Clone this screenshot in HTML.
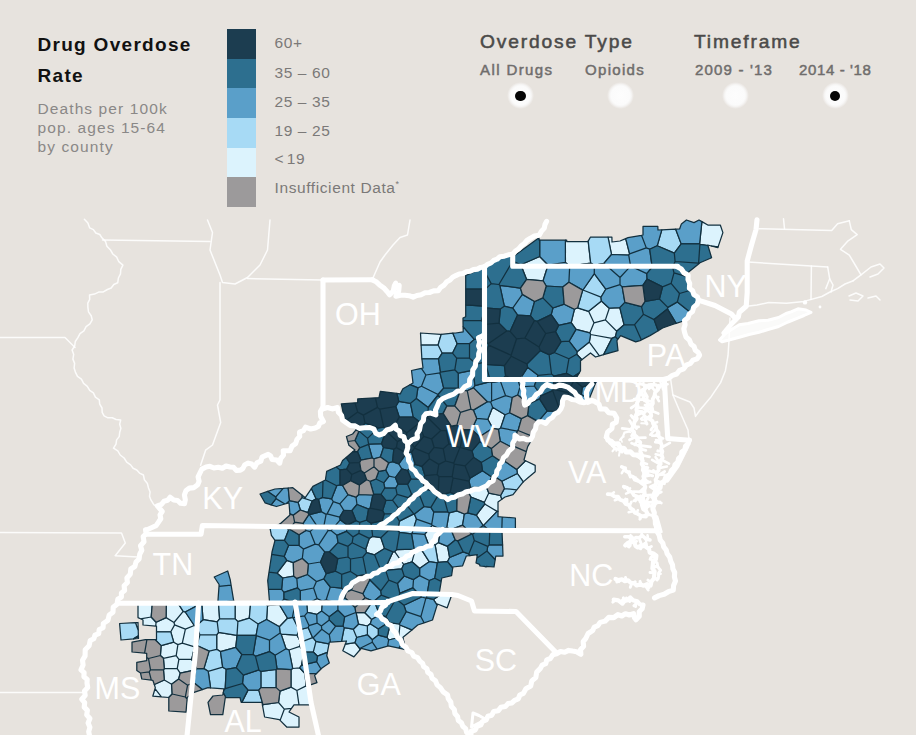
<!DOCTYPE html>
<html><head><meta charset="utf-8"><title>Drug Overdose Rate</title>
<style>
html,body{margin:0;padding:0;}
body{width:916px;height:735px;overflow:hidden;background:#e7e3de;font-family:"Liberation Sans",sans-serif;position:relative;}
.abs{position:absolute;white-space:nowrap;line-height:1;}
.title{left:37.5px;font-weight:bold;font-size:19px;color:#111;letter-spacing:1.3px;}
.sub{left:37.5px;font-size:15.5px;color:#8a8887;letter-spacing:1.1px;}
.leg{left:274.5px;font-size:15.5px;color:#7b7978;letter-spacing:0.6px;}
.sw{position:absolute;left:227px;width:29px;}
.h2{font-size:17.8px;color:#4b4a49;letter-spacing:1.7px;-webkit-text-stroke:0.5px #4b4a49;transform-origin:left top;transform:scaleX(1.08);}
.opt{font-size:14.2px;color:#6f6d6c;letter-spacing:1.3px;-webkit-text-stroke:0.45px #6f6d6c;transform-origin:left top;transform:scaleX(1.06);}
.radio{position:absolute;width:27px;height:27px;border-radius:50%;background:radial-gradient(circle closest-side,#fdfdfd 0,#fbfbfb 70%,#f5f4f3 82%,rgba(238,235,232,.95) 91%,rgba(231,227,222,0) 100%);}
.dot{position:absolute;left:8.4px;top:8.6px;width:10.2px;height:10.2px;border-radius:50%;background:#050505;}
</style></head><body>
<svg width="916" height="735" viewBox="0 0 916 735" style="position:absolute;left:0;top:0">
<g fill="none" stroke="#ffffff" stroke-opacity="0.88" stroke-width="1.5" stroke-linejoin="round" stroke-linecap="round">
<path d="M102.5,240.0 210.0,241.5"/>
<path d="M84.4,219.3 87.9,223.0 89.7,227.9 93.4,229.6 95.8,233.0 99.8,234.5 101.9,237.8 105.5,241.4 106.9,246.2 110.3,249.7 112.8,254.0 116.7,257.1 118.8,261.7 122.9,265.1 120.8,269.3 120.5,273.9 118.4,278.0 117.7,282.8 113.8,284.5 111.2,288.0 107.4,289.5 103.3,291.9 98.6,292.1 94.5,294.1 89.5,294.9 89.7,299.3 87.8,303.2 87.9,307.3 88.5,311.9 91.2,315.7 92.2,319.8 89.9,323.9 86.1,326.7 83.9,330.9 80.0,333.6 77.9,337.7 75.3,341.5 74.7,346.0 72.1,350.0 73.7,354.4 72.9,359.1 74.6,363.4 74.1,368.0 75.4,372.1 77.5,376.4 81.4,379.1 83.6,383.4 87.3,386.3 89.7,390.3 93.4,392.9 95.4,397.1 99.3,399.9 99.7,404.2 102.0,408.0 102.2,412.4 104.1,415.8 107.9,417.8 112.3,417.7 116.1,419.5 120.7,420.0 119.7,424.2 120.9,428.4 119.7,432.3 119.2,436.6 116.6,439.9 116.0,444.1 113.5,448.2 117.8,450.8 120.2,455.0 124.1,458.0 126.7,462.1 130.6,464.9 133.1,468.3 136.8,470.0 139.5,473.1 143.4,475.0 144.4,479.8 147.4,483.5 148.5,488.0 150.1,492.0 149.5,496.3 150.9,499.9 153.8,504.6 158.0,508.0"/>
<path d="M0.0,337.5 65.0,337.5 75.0,347.5"/>
<path d="M207.5,220.0 212.5,232.5 210.0,250.0 220.0,275.0 222.5,282.5 235.0,284.0 247.5,277.5 260.0,265.0 267.5,250.0 270.0,220.0"/>
<path d="M220.0,282.5 220.0,400.0 217.5,405.0 220.7,422.6 212.5,445.0 205.6,450.2 200.6,465.3"/>
<path d="M247.5,278.5 323.0,280.0"/>
<path d="M372.5,279.0 380.0,262.0 385.0,255.0 393.0,245.0 400.0,237.5 407.5,235.0 410.0,220.0"/>
<path d="M0.0,532.5 121.5,533.0 125.3,543.0 115.2,555.7 137.8,557.0"/>
<path d="M0.0,692.5 82.5,692.5"/>
<path d="M759.0,228.7 831.7,230.6 837.6,223.8 849.3,220.8"/>
<path d="M783.5,218.8 784.5,228.7"/>
<path d="M849.3,220.8 851.3,229.7 857.2,234.6 847.4,241.4 840.5,249.3 849.3,255.2 855.2,265.0 861.0,274.8 853.3,280.7"/>
<path d="M861.0,274.8 871.0,267.0 880.0,264.0 884.0,268.0 878.0,274.0 870.0,277.0"/>
<path d="M748.0,262.0 827.7,267.0"/>
<path d="M811.4,266.0 811.0,299.4"/>
<path d="M827.7,267.0 829.7,278.8 825.8,288.6"/>
<path d="M747.0,306.3 757.0,305.0 768.8,302.4 786.5,303.3 804.0,301.4 821.8,296.5 830.0,292.0 837.6,288.6 845.0,284.0 853.3,280.7"/>
<path d="M829.7,278.8 833.0,285.0 831.0,292.0"/>
<path d="M849.0,296.0 856.0,293.0 863.0,296.0 858.0,301.0 850.0,300.0"/>
<path d="M868.0,298.0 876.0,296.0 880.0,300.0"/>
<path d="M730.0,318.0 729.0,340.6 728.0,355.7 725.4,370.7 720.6,382.6 710.5,397.6 700.0,410.0 695.5,416.4 694.0,408.0 690.0,402.0 680.0,398.0 673.0,395.0"/>
<path d="M670.4,377.5 672.9,395.0 680.4,412.7 688.0,430.0 689.0,440.0"/>
</g>
<path d="M565.4,262.4 569.7,266.1 590.7,263.1 588.2,241.1 588.0,241.5 566.7,241.5 566.7,240.2 565.4,240.2Z M611.5,254.5 628.7,255.1 629.6,253.9 625.7,238.6 620.0,241.0 612.0,242.0 611.9,237.0 608.0,237.0Z M588.6,311.3 577.6,307.8 574.4,309.3 571.2,322.7 576.0,329.4 589.8,332.9 594.0,322.8Z M609.3,308.2 605.4,319.9 616.7,331.3 624.1,324.8 619.8,307.6Z M611.9,338.4 590.6,334.5 589.3,342.1 599.4,355.9 603.5,354.7Z M699.6,243.9 699.9,244.3 707.9,245.5 707.8,245.0 711.3,246.0 718.1,246.9 722.9,232.6 720.3,225.0 707.8,225.0 701.9,221.6Z M438.1,345.0 441.2,334.3 440.6,334.3 420.5,333.0 421.1,345.0Z M500.7,427.9 505.1,414.8 492.6,407.3 487.8,419.3 492.7,428.3 498.4,429.4Z M516.8,469.4 517.3,473.5 523.3,481.9 527.7,478.0 535.2,471.7 535.2,465.4 525.5,460.7Z M497.1,511.4 484.7,504.0 476.3,515.2 483.1,525.5 483.4,525.6Z M500.6,495.5 488.8,493.1 484.3,502.4 484.7,504.0 497.1,511.4 498.0,511.3 498.0,502.0 501.8,499.3Z M366.5,552.7 374.6,554.8 384.5,548.4 380.9,537.7 372.7,536.3 369.3,538.4 365.7,549.3Z M412.0,561.8 415.2,550.2 414.1,549.1 396.6,549.6 394.7,551.6 403.7,564.5Z M293.3,562.6 286.8,560.3 277.1,573.2 282.7,578.0 293.7,576.1Z M151.2,617.0 152.3,603.8 138.0,604.0 138.0,617.6 140.5,618.8Z M166.1,617.6 156.1,622.2 155.7,626.1 156.5,626.2 156.5,631.8 170.8,631.8 174.6,624.9 174.0,622.5Z M183.2,611.4 174.0,622.5 174.6,624.9 185.4,629.2 194.3,625.5 185.3,612.0Z M170.8,631.8 173.7,642.2 177.9,644.6 182.3,643.2 185.4,629.2 174.6,624.9Z M185.4,629.2 182.3,643.2 194.6,646.8 197.0,645.5 199.9,634.8 196.3,625.9 194.3,625.5Z M177.9,644.6 173.7,642.2 161.1,645.6 160.4,655.5 163.4,658.3 176.2,655.7Z M177.9,644.6 176.2,655.7 178.9,659.4 191.7,659.4 194.6,646.8 182.3,643.2Z M176.2,655.7 163.4,658.3 164.3,668.6 177.2,668.6 178.9,659.4Z M195.6,669.8 196.7,668.6 191.7,659.4 178.9,659.4 177.2,668.6 180.2,673.2Z M177.2,668.6 164.3,668.6 163.5,669.8 164.3,680.0 171.6,684.2 178.7,679.0 180.2,673.2Z M172.2,694.0 171.6,684.2 164.3,680.0 154.3,684.5 155.3,687.6 155.0,688.7 161.4,696.9 168.8,697.5Z M201.8,603.1 203.0,619.7 217.2,621.9 219.6,618.9 218.5,602.7 201.8,602.9Z M235.1,618.9 237.9,621.6 249.3,618.1 250.7,602.3 235.1,602.5Z M266.6,619.5 279.4,626.8 287.6,618.3 279.3,604.5 267.5,605.6Z M218.5,632.3 216.7,634.8 216.7,649.3 220.5,651.6 235.8,647.3 237.1,635.4 237.0,635.4Z M281.1,634.1 286.0,648.8 289.0,650.0 299.8,646.4 300.9,642.2 297.0,635.2Z M304.0,652.0 299.8,646.4 289.0,650.0 292.7,668.5 299.6,667.8 301.5,665.4Z M299.6,667.8 292.7,668.5 291.0,669.6 291.0,687.1 296.9,690.5 306.1,685.9 305.0,673.5Z M296.9,690.5 291.0,687.1 280.0,691.1 278.5,702.5 284.3,709.2 291.5,708.4 294.0,704.8 299.0,704.8Z M284.3,709.2 278.5,702.5 263.0,704.7 262.5,705.4 264.6,717.0 279.3,719.6 280.1,720.4Z M280.1,720.4 286.7,727.0 299.0,727.0 299.0,717.0 289.0,712.0 291.5,708.4 284.3,709.2Z M306.1,685.9 296.9,690.5 299.0,704.8 311.3,704.8 309.9,687.3Z M321.7,611.0 322.5,601.1 317.1,598.5 306.8,604.2 307.5,612.3 316.7,614.4Z M367.4,626.0 370.3,623.7 371.7,619.5 364.9,612.7 356.1,612.7 358.4,624.2Z M387.0,637.3 388.6,640.0 398.6,637.5 400.0,625.0 399.3,624.0 390.6,622.9Z M359.7,648.5 355.0,642.6 345.3,644.2 342.8,650.8 353.9,656.9 359.8,650.0Z M433.4,599.4 437.1,605.1 437.4,604.0 447.2,607.8 451.0,597.0 452.0,594.5 442.8,593.3Z M438.5,542.6 440.7,529.3 432.2,525.3 424.6,534.3 428.5,544.5 435.1,544.9Z M447.5,561.7 449.6,557.5 447.6,546.3 438.5,542.6 435.1,544.9 438.1,562.4Z M484.3,502.4 488.8,493.1 486.6,487.5 470.3,487.0 468.3,492.1 470.8,497.0Z M605.4,319.9 609.3,308.2 601.4,301.0 588.6,311.3 594.0,322.8Z M178.1,603.3 166.3,603.5 166.1,617.6 174.0,622.5 183.2,611.4Z M589.8,332.9 590.6,334.5 611.9,338.4 615.4,336.8 616.7,331.3 605.4,319.9 594.0,322.8Z M429.2,561.7 421.8,550.1 415.2,550.2 412.0,561.8 419.6,568.5Z M526.6,279.4 543.1,280.8 548.1,265.0 539.7,256.5 520.8,264.8Z M156.1,622.2 151.2,617.0 140.5,618.8 143.0,620.0 143.0,625.0 155.7,626.1Z M138.2,630.3 138.0,622.5 135.4,622.6Z M400.0,625.0 398.6,637.5 402.8,641.9 403.9,641.9 403.0,637.3 411.9,629.9Z M589.3,342.1 577.1,351.7 576.7,354.3 581.8,359.7 590.5,353.0 595.5,357.0 599.4,355.9Z M155.0,688.7 152.8,696.2 161.4,696.9Z M385.6,570.3 401.8,568.8 403.7,564.5 394.7,551.6 392.9,551.9 384.7,569.6Z" fill="#dcf3fd" stroke="#12303f" stroke-width="1.25" stroke-linejoin="round"/>
<path d="M611.5,254.5 608.0,237.0 590.5,237.0 588.2,241.1 590.7,263.1 594.3,265.4 603.9,263.3Z M657.2,245.8 674.3,253.1 681.2,243.9 675.7,229.2 661.8,229.8Z M588.6,311.3 601.4,301.0 601.0,297.2 582.9,290.0 582.7,290.1 577.6,307.8Z M438.1,345.0 442.2,353.2 452.5,353.2 457.2,343.7 452.9,333.2 441.2,334.3Z M438.5,358.8 442.2,353.2 438.1,345.0 421.1,345.0 421.8,358.0 421.9,358.8Z M517.3,473.5 501.8,481.2 504.3,488.6 516.8,489.8 522.8,482.3 523.3,481.9Z M399.4,532.3 411.5,533.8 412.1,533.4 416.5,519.1 414.4,514.1 413.8,513.9 399.4,521.1 397.8,530.7Z M456.8,510.8 449.1,512.8 446.7,527.5 451.1,529.7 462.6,525.1 464.4,514.0Z M298.0,502.3 300.3,510.0 307.8,512.7 312.2,501.0 302.0,497.7Z M284.5,540.4 288.8,529.5 279.8,524.1 270.0,528.0 271.4,535.4 275.0,540.4 275.0,540.4Z M438.1,562.4 435.1,544.9 428.5,544.5 421.8,550.1 429.2,561.7 437.4,562.9Z M138.4,635.9 138.2,630.3 135.4,622.6 119.6,623.5 121.0,640.0 133.5,638.9Z M161.1,645.6 173.7,642.2 170.8,631.8 156.5,631.8 156.5,639.7 155.2,639.7Z M226.3,601.7 233.9,601.7 233.7,600.8Z M219.6,618.9 235.1,618.9 235.1,602.5 218.5,602.7Z M249.3,618.1 258.2,624.0 266.6,619.5 267.5,605.6 264.2,602.1 250.7,602.3Z M199.9,634.8 216.7,634.8 218.5,632.3 217.2,621.9 203.0,619.7 196.3,625.9Z M219.6,618.9 217.2,621.9 218.5,632.3 237.0,635.4 237.9,621.6 235.1,618.9Z M237.0,635.4 237.1,635.4 256.1,635.4 258.2,624.0 249.3,618.1 237.9,621.6Z M216.7,634.8 199.9,634.8 197.0,645.5 209.1,651.1 216.7,649.3Z M220.5,651.6 216.7,649.3 209.1,651.1 203.9,668.6 208.2,671.3 222.7,667.2Z M208.2,671.3 210.6,687.8 224.0,688.9 223.7,690.6 225.2,688.6 226.2,669.3 222.7,667.2Z M260.9,671.4 260.9,687.6 276.2,687.6 276.2,669.5Z M263.0,704.7 258.8,690.1 248.0,690.1 241.8,702.4 262.0,702.4 262.5,705.4Z M372.7,601.0 364.9,612.7 371.7,619.5 379.6,614.7 374.3,601.0Z M299.1,629.8 297.0,635.2 300.9,642.2 312.6,637.6 308.2,627.5Z M344.2,627.7 341.5,641.3 346.5,641.0 345.3,644.2 355.0,642.6 356.7,637.5 353.3,629.2Z M356.7,637.5 367.4,634.8 367.4,626.0 358.4,624.2 353.3,629.2Z M370.3,623.7 367.4,626.0 367.4,634.8 372.3,639.7 378.4,635.1 378.4,629.1Z M300.9,642.2 299.8,646.4 304.0,652.0 313.3,652.0 316.0,641.3 313.2,637.8 312.6,637.6Z M316.0,641.3 313.3,652.0 317.5,656.2 327.4,652.3 329.0,643.9Z M293.1,617.7 292.4,617.4 287.6,618.3 279.4,626.8 280.1,633.1 281.1,634.1 297.0,635.2 299.1,629.8Z M183.2,611.4 185.3,612.0 201.8,603.1 201.8,602.9 198.0,603.0 178.1,603.3Z M500.6,495.5 501.8,499.3 505.0,497.0 513.0,494.6 516.8,489.8 504.3,488.6Z M302.0,497.7 312.2,501.0 316.2,498.9 311.4,488.6 305.3,497.7 301.9,495.0Z M594.3,273.6 582.9,290.0 601.0,297.2 605.8,289.2Z" fill="#a7daf5" stroke="#12303f" stroke-width="1.25" stroke-linejoin="round"/>
<path d="M565.4,240.2 539.7,240.0 539.7,256.5 548.1,265.0 565.4,262.4Z M629.6,253.9 646.3,247.9 641.5,235.3 628.0,237.7 625.7,238.6Z M649.7,249.2 657.2,245.8 661.8,229.8 658.0,230.0 657.8,226.4 643.0,226.4 643.0,235.0 641.5,235.3 646.3,247.9Z M699.6,243.9 701.9,221.6 699.0,220.0 694.0,222.6 686.4,220.0 681.4,223.9 679.6,229.0 675.7,229.2 681.2,243.9Z M568.9,282.2 569.7,266.1 565.4,262.4 548.1,265.0 543.1,280.8 546.2,286.0 562.8,287.0Z M594.3,265.4 590.7,263.1 569.7,266.1 568.9,282.2 582.7,290.1 582.9,290.0 594.3,273.6Z M620.0,277.5 603.9,263.3 594.3,265.4 594.3,273.6 605.8,289.2 620.0,284.7Z M642.9,285.3 647.1,279.1 646.8,273.6 630.6,266.1 620.0,277.5 620.0,284.7 622.2,286.9Z M512.7,308.2 522.4,294.4 520.5,288.2 499.8,285.3 504.3,306.2Z M622.2,286.9 620.0,284.7 605.8,289.2 601.0,297.2 601.4,301.0 609.3,308.2 619.8,307.6 624.9,302.4Z M534.6,301.5 522.4,294.4 512.7,308.2 517.6,315.1 530.5,315.9Z M564.2,304.2 552.9,308.0 551.2,314.6 558.7,325.3 571.2,322.7 574.4,309.3Z M677.4,301.9 667.8,307.4 667.4,308.9 676.1,323.3 685.0,320.5 690.6,312.5Z M576.0,329.4 569.1,341.2 577.1,351.7 589.3,342.1 590.6,334.5 589.8,332.9Z M463.1,326.6 463.2,331.8 455.7,333.0 452.9,333.2 457.2,343.7 469.5,343.7 474.3,339.4Z M438.5,358.8 421.9,358.8 423.0,368.0 421.4,368.3 425.9,375.0 440.0,372.9 440.5,372.2Z M417.9,387.9 421.5,386.2 425.9,375.0 421.4,368.3 411.5,370.5 413.0,383.0 410.0,384.7Z M473.5,387.9 474.9,385.6 473.2,370.2 458.2,373.2 458.2,388.2 460.6,390.0 467.3,390.8Z M425.9,375.0 421.5,386.2 438.1,394.5 443.7,388.2 440.0,372.9Z M438.1,394.5 421.5,386.2 417.9,387.9 416.3,398.6 428.2,407.5 438.1,395.0Z M410.5,403.3 398.8,401.3 395.8,406.5 399.3,417.1 413.3,417.1Z M490.7,402.1 491.6,401.0 491.6,382.4 490.4,381.7 474.9,385.6 473.5,387.9 487.3,401.7Z M520.0,386.8 518.4,381.5 505.6,375.8 500.4,381.1 505.6,395.7 512.3,397.5 517.7,395.0Z M476.7,418.4 487.8,419.3 492.6,407.3 490.7,402.1 487.3,401.7 473.3,410.1Z M509.7,412.8 512.3,397.5 505.6,395.7 491.6,401.0 490.7,402.1 492.6,407.3 505.1,414.8Z M517.3,431.1 518.1,430.5 521.5,418.6 509.7,412.8 505.1,414.8 500.7,427.9Z M470.0,478.3 469.0,481.1 470.3,487.0 486.6,487.5 491.8,477.0 482.5,470.8Z M501.9,462.0 494.6,476.4 501.8,481.2 517.3,473.5 516.8,469.4 504.7,461.3Z M398.8,463.9 392.6,461.7 388.6,462.8 385.7,470.1 389.0,476.2 395.4,477.5 401.8,468.9Z M395.8,488.0 398.1,484.2 395.4,477.5 389.0,476.2 383.7,482.8 384.8,488.0Z M339.8,503.8 348.1,494.7 342.6,485.5 340.1,484.9 336.7,485.7 331.5,498.9 333.3,501.6Z M358.7,494.5 356.0,497.2 357.0,504.5 368.6,509.2 370.2,508.1 372.8,495.0Z M333.3,501.6 331.5,498.9 322.5,497.4 318.5,499.3 321.3,511.6 326.1,514.4 327.1,513.9Z M339.7,517.1 343.8,510.3 339.8,503.8 333.3,501.6 327.1,513.9Z M326.1,514.4 324.0,525.4 328.2,530.3 331.0,530.6 340.2,519.8 339.7,517.1 327.1,513.9Z M416.5,519.1 431.7,524.4 433.8,511.9 430.9,507.4 424.0,506.5 414.4,514.1Z M433.8,511.9 431.7,524.4 432.2,525.3 440.7,529.3 446.7,527.5 449.1,512.8 447.8,511.9Z M501.8,530.8 502.0,530.9 502.0,530.5 515.4,530.0 515.4,518.0 502.2,517.0Z M476.3,515.2 467.7,512.8 464.4,514.0 462.6,525.1 471.5,534.0 472.6,534.3 483.1,525.5Z M331.0,530.6 328.2,530.3 318.7,544.9 324.8,552.0 329.4,551.9 338.1,542.6 336.9,535.3Z M428.5,544.5 424.6,534.3 412.1,533.4 411.5,533.8 414.1,549.1 415.2,550.2 421.8,550.1Z M368.6,444.1 368.5,444.3 372.2,458.0 374.0,458.9 380.4,457.0 383.5,447.5 381.6,443.7Z M275.7,497.0 276.0,498.6 284.9,504.0 286.0,503.7 289.5,500.6 288.2,488.0 283.2,488.4Z M289.5,500.6 286.0,503.7 289.0,502.8 289.9,513.9 293.3,515.3 300.3,510.0 298.0,502.3Z M357.0,504.5 356.0,497.2 348.1,494.7 339.8,503.8 343.8,510.3 351.9,510.5Z M321.3,511.6 309.4,514.6 316.6,525.4 324.0,525.4 326.1,514.4Z M305.9,530.5 299.0,534.8 299.0,545.4 303.4,549.1 315.1,544.1 310.1,531.6Z M324.0,525.4 316.6,525.4 310.1,531.6 315.1,544.1 318.7,544.9 328.2,530.3Z M302.3,558.5 303.4,549.1 299.0,545.4 288.5,545.4 284.1,556.4 286.8,560.3 293.3,562.6Z M320.5,562.0 324.8,552.0 318.7,544.9 315.1,544.1 303.4,549.1 302.3,558.5 308.3,564.0Z M323.8,578.9 326.3,573.7 320.5,562.0 308.3,564.0 307.4,574.5 316.4,581.6Z M297.6,587.9 300.3,590.6 313.6,588.0 316.4,581.6 307.4,574.5 296.8,578.4Z M268.5,589.4 269.5,602.0 264.2,602.1 267.5,605.6 279.3,604.5 284.0,598.8 284.0,592.3 281.6,589.4Z M300.3,590.6 300.3,600.2 306.8,604.2 317.1,598.5 313.6,588.0Z M313.6,588.0 317.1,598.5 322.5,601.1 326.2,599.8 330.3,587.0 323.8,578.9 316.4,581.6Z M437.4,562.9 429.2,561.7 419.6,568.5 419.6,575.6 429.4,580.5 434.8,578.2Z M419.6,575.6 413.5,579.6 412.9,587.9 421.5,597.0 425.9,598.2 426.5,597.9 429.4,580.5Z M362.8,593.7 365.1,597.7 372.7,601.0 374.3,601.0 381.4,595.1 380.8,590.8 369.8,579.8Z M425.9,598.2 420.9,616.7 424.1,622.8 432.5,620.0 437.1,605.1 433.4,599.4 426.5,597.9Z M231.1,585.1 230.2,579.6 227.7,571.0 214.2,577.0 219.1,584.5 219.0,586.3Z M219.0,586.3 217.9,601.7 226.3,601.7 233.7,600.8 231.1,585.1Z M293.7,576.1 282.7,578.0 281.6,589.4 284.0,592.3 297.6,587.9 296.8,578.4Z M194.3,625.5 196.3,625.9 203.0,619.7 201.8,603.1 185.3,612.0Z M256.1,635.4 256.2,635.7 269.5,640.2 280.1,633.1 279.4,626.8 266.6,619.5 258.2,624.0Z M269.5,651.6 269.5,640.2 256.2,635.7 253.1,654.5 255.5,656.3Z M275.1,655.3 286.0,648.8 281.1,634.1 280.1,633.1 269.5,640.2 269.5,651.6Z M226.2,669.3 236.3,667.7 241.9,654.5 235.8,647.3 220.5,651.6 222.7,667.2Z M291.0,669.6 292.7,668.5 289.0,650.0 286.0,648.8 275.1,655.3 277.0,668.9Z M202.2,689.6 208.0,687.6 210.6,687.8 208.2,671.3 203.9,668.6 196.7,668.6 195.6,669.8 193.6,682.6Z M258.9,669.9 243.3,675.1 242.5,683.5 248.0,690.1 258.8,690.1 260.9,687.6 260.9,671.4Z M326.2,599.8 337.9,603.7 345.0,597.8 346.1,592.5 341.7,588.1 330.3,587.0Z M468.8,553.9 463.1,551.8 449.6,557.5 447.5,561.7 452.7,568.0 452.8,567.0 462.6,565.8 466.3,556.0 469.8,555.6Z M404.2,576.0 397.4,583.5 399.8,593.4 412.9,587.9 413.5,579.6Z M306.8,604.2 300.3,600.2 295.3,602.9 292.4,617.4 293.1,617.7 304.5,615.8 307.5,612.3Z M337.9,610.3 337.9,603.7 326.2,599.8 322.5,601.1 321.7,611.0 329.3,616.7Z M355.8,612.5 355.1,607.5 345.0,597.8 337.9,603.7 337.9,610.3 344.6,616.9Z M309.0,625.6 304.5,615.8 293.1,617.7 299.1,629.8 308.2,627.5Z M329.3,619.9 329.3,616.7 321.7,611.0 316.7,614.4 317.1,623.1 321.4,626.0Z M358.4,624.2 356.1,612.7 355.8,612.5 344.6,616.9 343.0,626.2 344.2,627.7 353.3,629.2Z M385.9,616.7 379.6,614.7 371.7,619.5 370.3,623.7 378.4,629.1 389.2,621.9Z M329.3,634.7 321.8,629.2 313.2,637.8 316.0,641.3 329.0,643.9 329.3,642.2 330.5,642.1Z M335.7,626.2 329.3,634.7 330.5,642.1 341.5,641.3 344.2,627.7 343.0,626.2Z M355.0,642.6 359.7,648.5 372.3,642.2 372.3,639.7 367.4,634.8 356.7,637.5Z M372.3,639.7 372.3,642.2 377.1,649.1 387.6,646.1 388.6,640.0 387.0,637.3 378.4,635.1Z M388.6,640.0 387.6,646.1 388.3,645.9 398.9,648.2 402.8,641.9 398.6,637.5Z M317.5,656.2 316.6,661.6 321.0,669.0 322.0,668.0 329.3,663.0 326.8,655.7 327.4,652.3Z M316.6,661.6 301.5,665.4 299.6,667.8 305.0,673.5 316.5,673.5 321.0,669.0Z M406.1,611.7 420.9,616.7 425.9,598.2 421.5,597.0 403.9,605.2Z M400.0,625.0 411.9,629.9 417.7,625.0 424.1,622.8 420.9,616.7 406.1,611.7 399.3,624.0Z M489.8,530.8 501.8,530.8 502.2,517.0 498.0,516.7 498.0,511.3 497.1,511.4 483.4,525.6Z M451.1,529.7 446.7,527.5 440.7,529.3 438.5,542.6 447.6,546.3 455.3,540.0Z M489.2,544.9 487.7,546.4 487.0,551.1 495.2,559.7 495.8,556.0 503.0,556.0 502.6,544.9Z M541.2,395.7 534.4,386.0 520.0,386.8 517.7,395.0 529.0,403.9 539.6,398.9Z M500.4,381.1 491.6,382.4 491.6,401.0 505.6,395.7Z M582.3,387.1 581.4,394.3 588.7,399.9 592.0,392.0 595.9,382.2Z M547.2,410.9 538.0,421.6 538.1,421.8 538.2,421.5 545.8,423.0 552.0,417.0 558.3,411.6Z M646.8,273.6 652.2,267.2 649.7,249.2 646.3,247.9 629.6,253.9 628.7,255.1 630.6,266.1Z M321.8,629.2 329.3,634.7 335.7,626.2 329.3,619.9 321.4,626.0Z M309.4,514.6 308.9,514.4 303.0,523.3 305.9,530.5 310.1,531.6 316.6,525.4Z M620.0,277.5 630.6,266.1 628.7,255.1 611.5,254.5 603.9,263.3Z M407.5,470.5 415.2,464.3 411.6,452.1 406.6,453.1 398.8,463.9 401.8,468.9Z M372.3,642.2 359.7,648.5 359.8,650.0 361.2,648.3 371.0,650.8 377.1,649.1Z M514.1,446.4 517.3,431.1 500.7,427.9 498.4,429.4 500.2,441.2 511.7,447.3Z M581.4,394.3 571.6,398.7 571.6,398.9 572.0,399.0 584.0,403.0 588.0,401.7 588.7,399.9Z M287.6,618.3 292.4,617.4 295.3,602.9 284.0,598.8 279.3,604.5Z M492.7,428.3 487.8,419.3 476.7,418.4 471.8,429.6 479.6,436.8Z M398.9,648.2 405.5,649.6 403.9,641.9 402.8,641.9Z M538.1,375.3 527.6,367.3 518.4,381.5 520.0,386.8 534.4,386.0Z M317.1,623.1 309.0,625.6 308.2,627.5 312.6,637.6 313.2,637.8 321.8,629.2 321.4,626.0Z M317.1,623.1 316.7,614.4 307.5,612.3 304.5,615.8 309.0,625.6Z M275.7,497.0 283.2,488.4 275.0,489.0 267.7,491.4Z M340.2,519.8 331.0,530.6 336.9,535.3 346.5,531.3 347.2,525.1Z M431.7,524.4 416.5,519.1 412.1,533.4 424.6,534.3 432.2,525.3Z M276.0,498.6 271.1,504.8 276.4,506.5 284.9,504.0Z" fill="#5a9fc9" stroke="#12303f" stroke-width="1.25" stroke-linejoin="round"/>
<path d="M539.7,256.5 539.7,240.0 539.0,240.0 539.0,237.7 514.0,256.0 512.7,255.0 509.9,255.8 512.8,261.0 520.8,264.8Z M672.6,267.2 675.1,261.5 674.3,253.1 657.2,245.8 649.7,249.2 652.2,267.2Z M698.6,263.2 699.9,244.3 699.6,243.9 681.2,243.9 674.3,253.1 675.1,261.5Z M509.9,255.8 500.0,258.5 484.5,267.5 482.9,268.2 491.2,283.6 498.9,284.5 512.8,261.0Z M671.1,283.4 674.0,272.8 672.6,267.2 652.2,267.2 646.8,273.6 647.1,279.1 662.5,286.8Z M679.5,293.5 691.5,290.0 690.0,287.9 688.4,277.2 674.0,272.8 671.1,283.4Z M504.3,306.2 499.8,285.3 498.9,284.5 491.2,283.6 485.5,289.1 483.3,306.2 484.3,307.9 500.3,309.1Z M564.2,304.2 562.8,287.0 546.2,286.0 542.8,297.9 552.9,308.0Z M667.8,307.4 677.4,301.9 679.5,293.5 671.1,283.4 662.5,286.8 659.4,299.0Z M677.4,301.9 690.6,312.5 699.0,300.4 691.5,290.0 679.5,293.5Z M517.6,315.1 512.7,308.2 504.3,306.2 500.3,309.1 499.0,323.1 506.7,330.9 510.1,331.4Z M552.9,308.0 542.8,297.9 534.6,301.5 530.5,315.9 534.3,320.7 537.2,321.4 551.2,314.6Z M619.8,307.6 624.1,324.8 634.6,324.7 643.4,314.3 641.5,306.6 624.9,302.4Z M641.5,306.6 643.4,314.3 654.1,319.6 667.4,308.9 667.8,307.4 659.4,299.0 645.0,301.3Z M654.1,319.6 643.4,314.3 634.6,324.7 641.4,339.9 650.0,335.6 658.2,330.7Z M490.4,381.7 491.6,382.4 500.4,381.1 505.6,375.8 504.4,365.7 486.0,364.3Z M549.1,354.6 540.3,350.6 526.9,364.0 527.6,367.3 538.1,375.3 551.5,374.0Z M568.9,358.8 554.3,352.5 549.1,354.6 551.5,374.0 554.0,376.1 566.4,373.3Z M576.7,354.3 568.9,358.8 566.4,373.3 573.1,376.8 579.1,373.1 580.5,370.7 580.5,360.7 581.8,359.7Z M482.9,268.2 465.7,275.3 465.7,289.1 485.5,289.1 491.2,283.6Z M484.3,307.9 483.3,306.2 465.7,304.8 465.7,316.7 463.0,318.0 463.0,320.5 481.8,320.5Z M474.3,339.4 482.4,338.5 484.1,324.5 481.8,320.5 463.0,320.5 463.1,326.6Z M469.5,358.2 469.5,343.7 457.2,343.7 452.5,353.2 456.7,358.2Z M488.7,345.1 488.3,343.8 482.4,338.5 474.3,339.4 469.5,343.7 469.5,358.2 476.6,364.1 483.4,362.4Z M454.8,369.8 456.7,358.2 452.5,353.2 442.2,353.2 438.5,358.8 440.5,372.2Z M469.5,358.2 456.7,358.2 454.8,369.8 458.2,373.2 473.2,370.2 476.6,364.1Z M458.2,373.2 454.8,369.8 440.5,372.2 440.0,372.9 443.7,388.2 458.2,388.2Z M410.5,403.3 416.3,398.6 417.9,387.9 410.0,384.7 402.9,388.8 400.3,393.9 396.8,393.4 398.8,401.3Z M427.4,417.2 428.1,415.9 428.2,407.5 416.3,398.6 410.5,403.3 413.3,417.1 419.3,421.7Z M529.0,403.9 527.5,415.6 538.0,421.6 547.2,410.9 539.6,398.9Z M472.0,450.9 473.7,457.4 481.3,462.5 492.6,455.8 491.5,448.5 479.8,441.6Z M481.3,462.5 482.5,470.8 491.8,477.0 494.6,476.4 501.9,462.0 492.6,455.8Z M359.1,431.1 358.9,431.2 354.9,440.5 359.7,447.8 368.5,444.3 368.6,444.1 367.6,438.4Z M383.7,427.1 378.5,427.8 367.6,438.4 368.6,444.1 381.6,443.7 385.9,430.8 385.6,428.4Z M360.9,460.2 372.2,458.0 368.5,444.3 359.7,447.8 357.4,451.6Z M340.1,469.9 336.2,467.0 326.7,471.4 325.4,480.0 325.4,480.0 336.7,485.7 340.1,484.9Z M381.0,494.3 384.8,488.0 383.7,482.8 375.9,479.0 370.0,481.3 373.7,494.3Z M336.7,485.7 325.4,480.0 323.0,481.2 322.5,497.4 331.5,498.9Z M381.0,494.3 385.9,500.4 392.5,500.1 397.1,494.4 395.8,488.0 384.8,488.0Z M397.1,494.4 408.3,497.6 411.6,494.3 407.6,484.2 398.1,484.2 395.8,488.0Z M359.8,522.4 366.7,520.2 368.6,509.2 357.0,504.5 351.9,510.5 355.9,520.6Z M410.9,478.8 407.6,484.2 411.6,494.3 419.2,494.3 424.6,488.9 422.7,479.4Z M399.4,521.1 413.8,513.9 407.1,505.6 398.1,507.7 395.1,513.9Z M414.4,514.1 424.0,506.5 419.2,494.3 411.6,494.3 408.3,497.6 407.1,505.6 413.8,513.9Z M424.6,488.9 419.2,494.3 424.0,506.5 430.9,507.4 439.3,493.4 438.2,492.2Z M430.9,507.4 433.8,511.9 447.8,511.9 443.1,494.3 439.3,493.4Z M484.7,504.0 484.3,502.4 470.8,497.0 467.7,512.8 476.3,515.2Z M338.1,542.6 348.0,546.3 352.1,542.8 353.1,536.9 346.5,531.3 336.9,535.3Z M369.3,538.4 358.9,533.4 353.1,536.9 352.1,542.8 365.7,549.3Z M392.9,551.9 394.7,551.6 396.6,549.6 399.4,532.3 397.8,530.7 388.4,530.5 380.9,537.7 384.5,548.4Z M399.4,532.3 396.6,549.6 414.1,549.1 411.5,533.8Z M463.1,551.8 468.8,553.9 474.3,540.5 472.6,534.3 471.5,534.0 457.7,540.9Z M483.1,525.5 472.6,534.3 474.3,540.5 487.7,546.4 489.2,544.9 489.8,530.8 483.4,525.6Z M276.0,498.6 275.7,497.0 267.7,491.4 260.0,494.0 265.0,502.8 271.1,504.8Z M323.0,481.2 312.9,486.4 311.4,488.6 316.2,498.9 318.5,499.3 322.5,497.4Z M457.2,495.2 450.2,492.3 443.1,494.3 447.8,511.9 449.1,512.8 456.8,510.8Z M382.2,520.6 388.4,530.5 397.8,530.7 399.4,521.1 395.1,513.9 384.2,513.8Z M289.8,529.3 288.8,529.5 284.5,540.4 288.5,545.4 299.0,545.4 299.0,534.8Z M284.5,540.4 275.0,540.4 272.0,552.0 271.7,554.3 284.1,556.4 288.5,545.4Z M329.4,551.9 337.8,558.7 348.0,557.0 348.0,546.3 338.1,542.6Z M352.1,542.8 348.0,546.3 348.0,557.0 350.5,559.0 362.9,557.0 366.5,552.7 365.7,549.3Z M277.1,573.2 286.8,560.3 284.1,556.4 271.7,554.3 270.0,565.5 269.0,572.1Z M341.7,574.3 350.5,571.4 350.5,559.0 348.0,557.0 337.8,558.7 335.3,571.1Z M350.5,559.0 350.5,571.4 357.2,575.8 366.4,574.7 362.9,557.0Z M362.9,557.0 366.4,574.7 368.8,575.7 380.3,569.1 374.6,554.8 366.5,552.7Z M380.3,569.1 384.7,569.6 392.9,551.9 384.5,548.4 374.6,554.8Z M281.6,589.4 282.7,578.0 277.1,573.2 269.0,572.1 267.7,580.6 268.3,587.0 268.5,589.4Z M330.3,587.0 341.7,588.1 341.7,574.3 335.3,571.1 326.3,573.7 323.8,578.9Z M341.7,588.1 346.1,592.5 351.5,590.0 357.2,575.8 350.5,571.4 341.7,574.3Z M284.0,592.3 284.0,598.8 295.3,602.9 300.3,600.2 300.3,590.6 297.6,587.9Z M441.2,581.4 441.8,578.0 451.6,575.6 452.7,568.0 447.5,561.7 438.1,562.4 437.4,562.9 434.8,578.2Z M419.6,568.5 412.0,561.8 403.7,564.5 401.8,568.8 404.2,576.0 413.5,579.6 419.6,575.6Z M388.8,580.1 397.4,583.5 404.2,576.0 401.8,568.8 385.6,570.3Z M380.3,569.1 368.8,575.7 369.8,579.8 380.8,590.8 388.8,580.1 385.6,570.3 384.7,569.6Z M380.8,590.8 381.4,595.1 395.1,600.3 397.4,599.9 399.8,593.4 397.4,583.5 388.8,580.1Z M434.8,578.2 429.4,580.5 426.5,597.9 433.4,599.4 442.8,593.3 439.3,592.8 441.2,581.4Z M390.6,622.9 399.3,624.0 406.1,611.7 403.9,605.2 397.4,599.9 395.1,600.3 385.9,616.7 389.2,621.9Z M235.8,647.3 241.9,654.5 253.1,654.5 256.2,635.7 256.1,635.4 237.1,635.4Z M253.1,654.5 241.9,654.5 236.3,667.7 243.3,675.1 258.9,669.9 255.5,656.3Z M258.9,669.9 260.9,671.4 276.2,669.5 277.0,668.9 275.1,655.3 269.5,651.6 255.5,656.3Z M248.0,690.1 242.5,683.5 225.2,688.6 223.7,690.6 223.2,692.8 225.8,697.5 240.0,697.5 241.2,702.4 241.8,702.4Z M487.0,551.1 476.8,558.3 476.0,563.0 479.5,564.4 480.0,566.0 484.3,566.3 486.0,567.0 486.1,566.4 494.0,567.0 495.2,559.7Z M344.6,616.9 337.9,610.3 329.3,616.7 329.3,619.9 335.7,626.2 343.0,626.2Z M378.4,629.1 378.4,635.1 387.0,637.3 390.6,622.9 389.2,621.9Z M317.5,656.2 313.3,652.0 304.0,652.0 301.5,665.4 316.6,661.6Z M489.8,530.8 489.2,544.9 502.6,544.9 502.0,530.9 501.8,530.8Z M487.0,551.1 487.7,546.4 474.3,540.5 468.8,553.9 469.8,555.6 477.4,554.7 477.3,555.0 476.7,555.0 477.1,556.4 476.8,558.3Z M615.4,336.8 611.9,338.4 603.5,354.7 618.0,350.6 616.9,340.6 617.8,339.3Z M422.0,466.3 415.2,464.3 407.5,470.5 410.9,478.8 422.7,479.4 425.0,475.6Z M483.4,362.4 476.6,364.1 473.2,370.2 474.9,385.6 490.4,381.7 486.0,364.3Z M634.6,324.7 624.1,324.8 616.7,331.3 615.4,336.8 617.8,339.3 620.6,335.6 635.7,341.9 640.0,340.6 641.4,339.9Z M359.8,522.4 358.9,533.4 369.3,538.4 372.7,536.3 371.1,523.2 366.7,520.2Z M347.2,525.1 346.5,531.3 353.1,536.9 358.9,533.4 359.8,522.4 355.9,520.6Z M349.7,463.0 346.2,457.4 342.6,460.4 340.5,465.0 336.2,467.0 340.1,469.9 346.7,469.1Z M393.8,449.2 383.5,447.5 380.4,457.0 388.6,462.8 392.6,461.7Z M395.1,513.9 398.1,507.7 392.5,500.1 385.9,500.4 382.6,510.6 384.2,513.8Z M512.8,261.0 498.9,284.5 499.8,285.3 520.5,288.2 526.6,279.4 520.8,264.8Z M553.5,389.3 554.0,376.1 551.5,374.0 538.1,375.3 534.4,386.0 541.2,395.7 552.7,390.6Z M458.2,388.2 443.7,388.2 438.1,394.5 438.1,395.0 446.9,406.0 454.8,406.0 460.6,390.0Z M372.7,536.3 380.9,537.7 388.4,530.5 382.2,520.6 371.1,523.2Z M407.1,505.6 408.3,497.6 397.1,494.4 392.5,500.1 398.1,507.7Z M379.6,614.7 385.9,616.7 395.1,600.3 381.4,595.1 374.3,601.0Z M699.9,244.3 698.6,263.2 698.9,263.7 700.0,262.8 711.6,257.7 707.9,245.5Z M711.3,246.0 717.8,247.7 718.1,246.9Z M365.0,422.8 359.1,431.1 367.6,438.4 378.5,427.8Z M698.6,263.2 675.1,261.5 672.6,267.2 674.0,272.8 688.4,277.2 687.7,272.8 698.9,263.7Z M571.2,322.7 558.7,325.3 555.5,331.6 561.1,341.7 569.1,341.2 576.0,329.4Z M225.2,688.6 242.5,683.5 243.3,675.1 236.3,667.7 226.2,669.3Z M443.2,413.4 446.9,406.0 438.1,395.0 428.2,407.5 428.1,415.9Z M399.8,593.4 397.4,599.9 403.9,605.2 421.5,597.0 412.9,587.9Z M455.3,540.0 447.6,546.3 449.6,557.5 463.1,551.8 457.7,540.9Z M554.3,352.5 568.9,358.8 576.7,354.3 577.1,351.7 569.1,341.2 561.1,341.7Z M389.0,476.2 385.7,470.1 378.7,471.3 375.9,479.0 383.7,482.8Z" fill="#2d6f8f" stroke="#12303f" stroke-width="1.25" stroke-linejoin="round"/>
<path d="M659.4,299.0 662.5,286.8 647.1,279.1 642.9,285.3 645.0,301.3Z M484.1,324.5 499.0,323.1 500.3,309.1 484.3,307.9 481.8,320.5Z M667.4,308.9 654.1,319.6 658.2,330.7 662.6,328.0 674.0,324.0 676.1,323.3Z M488.3,343.8 506.7,330.9 499.0,323.1 484.1,324.5 482.4,338.5Z M516.6,338.8 510.1,331.4 506.7,330.9 488.3,343.8 488.7,345.1 511.1,355.3Z M530.5,315.9 517.6,315.1 510.1,331.4 516.6,338.8 524.9,338.0 534.3,320.7Z M534.3,320.7 524.9,338.0 539.0,347.0 545.7,333.5 537.2,321.4Z M526.9,364.0 540.3,350.6 539.0,347.0 524.9,338.0 516.6,338.8 511.1,355.3 511.3,356.2Z M545.7,333.5 539.0,347.0 540.3,350.6 549.1,354.6 554.3,352.5 561.1,341.7 555.5,331.6Z M504.4,365.7 511.3,356.2 511.1,355.3 488.7,345.1 483.4,362.4 486.0,364.3Z M527.6,367.3 526.9,364.0 511.3,356.2 504.4,365.7 505.6,375.8 518.4,381.5Z M483.3,306.2 485.5,289.1 465.7,289.1 465.7,304.8Z M357.7,412.1 355.0,402.8 341.3,403.9 345.0,421.3Z M377.5,407.4 375.4,397.8 357.7,398.9 357.7,402.6 355.0,402.8 357.7,412.1 363.4,415.1Z M377.5,407.4 379.8,409.2 395.8,406.5 398.8,401.3 396.8,393.4 380.3,391.3 379.0,397.6 375.4,397.8Z M379.8,409.2 377.5,407.4 363.4,415.1 365.0,422.8 378.5,427.8 383.7,427.1Z M394.9,424.6 399.3,417.1 395.8,406.5 379.8,409.2 383.7,427.1 385.6,428.4Z M419.3,421.7 413.3,417.1 399.3,417.1 394.9,424.6 406.8,432.7 418.8,423.6Z M423.8,436.4 431.6,439.0 440.8,430.5 427.4,417.2 419.3,421.7 418.8,423.6Z M451.3,426.2 443.2,413.4 428.1,415.9 427.4,417.2 440.8,430.5 446.2,430.6Z M414.5,448.2 428.8,454.0 434.1,447.3 431.6,439.0 423.8,436.4 414.5,447.6Z M443.2,448.7 434.1,447.3 428.8,454.0 429.5,458.8 438.8,464.4 445.6,461.0Z M459.9,447.6 448.8,443.9 443.2,448.7 445.6,461.0 453.7,463.2Z M460.2,447.5 459.9,447.6 453.7,463.2 454.3,464.2 465.1,465.9 473.7,457.4 472.0,450.9Z M438.8,464.4 429.5,458.8 422.0,466.3 425.0,475.6 437.1,474.5Z M439.0,476.7 452.2,476.7 454.3,464.2 453.7,463.2 445.6,461.0 438.8,464.4 437.1,474.5Z M454.3,464.2 452.2,476.7 453.1,478.0 469.0,481.1 470.0,478.3 465.1,465.9Z M473.7,457.4 465.1,465.9 470.0,478.3 482.5,470.8 481.3,462.5Z M438.2,492.2 439.3,493.4 443.1,494.3 450.2,492.3 453.1,478.0 452.2,476.7 439.0,476.7Z M468.3,492.1 470.3,487.0 469.0,481.1 453.1,478.0 450.2,492.3 457.2,495.2Z M422.0,466.3 429.5,458.8 428.8,454.0 414.5,448.2 411.6,452.1 415.2,464.3Z M456.9,425.1 451.3,426.2 446.2,430.6 448.8,443.9 459.9,447.6 460.2,447.5 463.7,429.6Z M479.6,436.8 471.8,429.6 463.7,429.6 460.2,447.5 472.0,450.9 479.8,441.6Z M381.6,443.7 383.5,447.5 393.8,449.2 396.4,447.6 397.4,441.6 385.9,430.8Z M360.9,460.2 357.4,451.6 353.1,451.6 346.2,457.4 349.7,463.0 359.7,462.5Z M350.6,480.7 351.8,474.5 346.7,469.1 340.1,469.9 340.1,484.9 342.6,485.5Z M364.4,473.1 361.0,470.4 351.8,474.5 350.6,480.7 359.4,485.1 366.7,479.8Z M395.4,477.5 398.1,484.2 407.6,484.2 410.9,478.8 407.5,470.5 401.8,468.9Z M372.8,495.0 370.2,508.1 382.6,510.6 385.9,500.4 381.0,494.3 373.7,494.3Z M351.9,510.5 343.8,510.3 339.7,517.1 340.2,519.8 347.2,525.1 355.9,520.6Z M382.6,510.6 370.2,508.1 368.6,509.2 366.7,520.2 371.1,523.2 382.2,520.6 384.2,513.8Z M406.6,453.1 396.4,447.6 393.8,449.2 392.6,461.7 398.8,463.9Z M318.5,499.3 316.2,498.9 312.2,501.0 307.8,512.7 308.9,514.4 309.4,514.6 321.3,511.6Z M335.3,571.1 337.8,558.7 329.4,551.9 324.8,552.0 320.5,562.0 326.3,573.7Z M541.2,395.7 539.6,398.9 547.2,410.9 558.3,411.6 559.9,410.3 552.7,390.6Z M571.6,398.7 581.4,394.3 582.3,387.1 574.1,380.2 567.8,392.6Z M567.8,392.6 574.1,380.2 573.1,376.8 566.4,373.3 554.0,376.1 553.5,389.3Z M365.0,422.8 363.4,415.1 357.7,412.1 345.0,421.3 345.0,421.5 360.0,425.0 355.8,430.1 358.9,431.2 359.1,431.1Z M425.0,475.6 422.7,479.4 424.6,488.9 438.2,492.2 439.0,476.7 437.1,474.5Z M573.1,376.8 574.1,380.2 582.3,387.1 595.9,382.2 597.0,379.5 575.4,379.5 579.1,373.1Z M406.8,432.7 406.3,436.9 414.5,447.6 423.8,436.4 418.8,423.6Z M385.9,430.8 397.4,441.6 406.3,436.9 406.8,432.7 394.9,424.6 385.6,428.4Z M351.8,474.5 361.0,470.4 359.7,462.5 349.7,463.0 346.7,469.1Z M537.2,321.4 545.7,333.5 555.5,331.6 558.7,325.3 551.2,314.6Z M446.2,430.6 440.8,430.5 431.6,439.0 434.1,447.3 443.2,448.7 448.8,443.9Z M559.9,410.3 561.0,409.3 564.0,397.0 571.6,398.9 571.6,398.7 567.8,392.6 553.5,389.3 552.7,390.6Z M411.6,452.1 414.5,448.2 414.5,447.6 406.3,436.9 397.4,441.6 396.4,447.6 406.6,453.1Z" fill="#1c3d50" stroke="#12303f" stroke-width="1.25" stroke-linejoin="round"/>
<path d="M546.2,286.0 543.1,280.8 526.6,279.4 520.5,288.2 522.4,294.4 534.6,301.5 542.8,297.9Z M577.6,307.8 582.7,290.1 568.9,282.2 562.8,287.0 564.2,304.2 574.4,309.3Z M641.5,306.6 645.0,301.3 642.9,285.3 622.2,286.9 624.9,302.4Z M467.3,390.8 460.6,390.0 454.8,406.0 460.5,412.4 470.9,409.2Z M473.3,410.1 487.3,401.7 473.5,387.9 467.3,390.8 470.9,409.2Z M454.8,406.0 446.9,406.0 443.2,413.4 451.3,426.2 456.9,425.1 460.5,412.4Z M460.5,412.4 456.9,425.1 463.7,429.6 471.8,429.6 476.7,418.4 473.3,410.1 470.9,409.2Z M512.3,397.5 509.7,412.8 521.5,418.6 527.5,415.6 529.0,403.9 517.7,395.0Z M538.0,421.6 527.5,415.6 521.5,418.6 518.1,430.5 532.5,436.3 533.6,432.2 538.1,421.8Z M500.2,441.2 491.5,448.5 492.6,455.8 501.9,462.0 504.7,461.3 511.7,447.3Z M504.7,461.3 516.8,469.4 525.5,460.7 524.0,460.0 526.3,451.6 514.1,446.4 511.7,447.3Z M494.6,476.4 491.8,477.0 486.6,487.5 488.8,493.1 500.6,495.5 504.3,488.6 501.8,481.2Z M354.9,440.5 358.9,431.2 355.8,430.1 352.6,434.0 346.4,436.5 347.8,441.5Z M357.4,451.6 359.7,447.8 354.9,440.5 347.8,441.5 348.9,445.3 355.0,450.0 353.1,451.6Z M364.4,473.1 374.0,466.7 374.0,458.9 372.2,458.0 360.9,460.2 359.7,462.5 361.0,470.4Z M380.4,457.0 374.0,458.9 374.0,466.7 378.7,471.3 385.7,470.1 388.6,462.8Z M375.9,479.0 378.7,471.3 374.0,466.7 364.4,473.1 366.7,479.8 370.0,481.3Z M359.4,485.1 350.6,480.7 342.6,485.5 348.1,494.7 356.0,497.2 358.7,494.5Z M470.8,497.0 468.3,492.1 457.2,495.2 456.8,510.8 464.4,514.0 467.7,512.8Z M471.5,534.0 462.6,525.1 451.1,529.7 455.3,540.0 457.7,540.9Z M289.5,500.6 298.0,502.3 302.0,497.7 301.9,495.0 292.8,487.7 288.2,488.0Z M370.0,481.3 366.7,479.8 359.4,485.1 358.7,494.5 372.8,495.0 373.7,494.3Z M293.3,515.3 289.9,513.9 290.0,515.0 280.0,524.0 279.8,524.1 288.8,529.5 289.8,529.3 294.6,522.1Z M300.3,510.0 293.3,515.3 294.6,522.1 303.0,523.3 308.9,514.4 307.8,512.7Z M307.4,574.5 308.3,564.0 302.3,558.5 293.3,562.6 293.7,576.1 296.8,578.4Z M368.8,575.7 366.4,574.7 357.2,575.8 351.5,590.0 362.8,593.7 369.8,579.8Z M151.2,617.0 156.1,622.2 166.1,617.6 166.3,603.5 152.3,603.8Z M146.9,639.7 145.4,639.7 132.0,642.2 132.0,652.0 144.6,653.1Z M133.5,638.9 138.5,638.5 138.4,635.9Z M161.1,645.6 155.2,639.7 146.9,639.7 144.6,653.1 146.7,653.3 146.7,657.5 148.5,658.5 160.4,655.5Z M146.7,657.5 146.7,660.6 136.8,662.3 136.8,670.5 140.5,673.0 149.2,671.9 150.5,669.8 148.5,658.5Z M160.4,655.5 148.5,658.5 150.5,669.8 163.5,669.8 164.3,668.6 163.4,658.3Z M164.3,680.0 163.5,669.8 150.5,669.8 149.2,671.9 151.3,680.1 152.8,680.3 154.3,684.5Z M178.7,679.0 171.6,684.2 172.2,694.0 185.3,697.0 187.6,685.2Z M185.3,697.0 172.2,694.0 168.8,697.5 168.8,697.5 168.8,711.0 186.0,712.2 187.1,699.0Z M197.0,645.5 194.6,646.8 191.7,659.4 196.7,668.6 203.9,668.6 209.1,651.1Z M276.2,669.5 276.2,687.6 280.0,691.1 291.0,687.1 291.0,669.6 277.0,668.9Z M223.2,692.8 222.8,695.0 213.0,696.0 208.0,702.4 210.5,714.7 222.8,714.7 225.3,697.5 225.8,697.5Z M260.9,687.6 258.8,690.1 263.0,704.7 278.5,702.5 280.0,691.1 276.2,687.6Z M356.1,612.7 364.9,612.7 372.7,601.0 365.1,597.7 355.1,607.5 355.8,612.5Z M305.0,673.5 306.1,685.9 309.9,687.3 309.7,685.2 317.0,682.7 314.6,675.4 316.5,673.5Z M491.5,448.5 500.2,441.2 498.4,429.4 492.7,428.3 479.6,436.8 479.8,441.6Z M362.8,593.7 351.5,590.0 346.1,592.5 345.0,597.8 355.1,607.5 365.1,597.7Z M518.1,430.5 517.3,431.1 514.1,446.4 526.3,451.6 527.7,446.6 531.4,440.3 532.5,436.3Z M193.6,682.6 187.6,685.2 185.3,697.0 187.1,699.0 187.2,697.5 193.3,692.6 202.2,689.6Z M303.0,523.3 294.6,522.1 289.8,529.3 299.0,534.8 305.9,530.5Z M195.6,669.8 180.2,673.2 178.7,679.0 187.6,685.2 193.6,682.6Z M149.2,671.9 140.5,673.0 140.5,673.0 141.8,679.0 151.3,680.1Z" fill="#9c9a9b" stroke="#12303f" stroke-width="1.25" stroke-linejoin="round"/>
<g fill="none" stroke="#ffffff" stroke-width="5.1" stroke-linejoin="round" stroke-linecap="round">
<path d="M323.0,280.0 372.8,279.8"/>
<path d="M372.6,280.0 376.6,282.1 379.8,285.2 383.7,287.8 386.8,291.2 389.7,294.8 393.3,291.1 394.3,285.9 395.7,283.1 396.8,287.2 399.2,285.5 398.7,291.1 396.0,296.3 400.5,295.3 404.9,295.3 409.1,295.7 413.1,297.2 416.9,295.5 421.1,294.7 425.0,292.8 429.4,292.5 433.6,290.9 438.2,290.7 440.7,287.3 444.2,285.0 446.8,281.7 450.0,280.0 452.6,277.3 455.8,275.6 459.2,274.0 462.9,273.5 466.3,271.7 470.1,271.3 473.5,269.6 477.4,269.1 480.8,267.4 484.7,266.8 487.5,264.4 490.9,263.0 493.6,260.5 497.1,259.2 499.9,256.8 504.3,256.2 508.4,254.8 512.9,254.2 515.4,251.1 518.7,248.9 521.2,245.8 524.4,243.5 526.9,240.5 530.1,238.4 534.4,236.1 539.2,235.2 541.3,231.4 544.3,228.1 545.0,224.5 546.6,221.3"/>
<path d="M323.0,280.0 323.0,408.3"/>
<path d="M323.0,408.9 327.6,407.5 332.2,408.9 337.5,407.6 338.4,412.2 341.6,415.6 342.6,420.2 346.1,422.6 350.2,425.5 355.1,425.9 359.4,428.4 364.0,427.8 369.8,427.5 373.9,429.2 375.8,433.3 379.2,435.0 383.6,433.5 386.7,430.0 391.3,428.7 395.3,425.3 396.1,429.1 399.6,431.2 400.2,435.3 403.9,436.8 404.9,440.8 408.0,442.8"/>
<path d="M322.5,407.9 320.4,411.6 320.7,416.6 323.4,421.5 319.8,422.9 318.3,426.5 315.4,427.9 310.6,429.0 305.5,427.2 303.4,430.7 299.5,432.2 299.7,436.4 297.0,439.4 295.6,443.7 292.0,446.2 290.1,450.7 283.2,450.7 283.5,455.2 280.7,458.5 279.7,463.2 276.7,460.1 272.1,459.4 270.6,455.9 268.2,454.4 262.0,457.1 260.8,461.2 256.9,462.9 254.6,467.2 251.6,464.0 248.2,463.1 244.6,465.0 242.9,468.5 240.4,470.1 236.3,470.4 233.6,467.3 230.1,467.0 226.0,466.0 222.3,468.3 218.3,467.3 213.9,468.0 209.9,466.3 206.1,467.0 201.9,469.1 200.0,472.9 198.1,476.9 199.1,481.3 197.7,484.7 194.0,487.6 189.4,488.1 186.1,490.5 184.4,494.9 185.3,499.7 184.5,503.7 180.6,503.3 177.6,500.5 173.7,500.0 170.1,497.2 167.7,500.3 164.0,501.2 161.6,504.3 157.4,505.9 162.2,511.5 160.0,514.8 160.8,518.8 158.7,521.8 156.1,525.7 152.0,527.5 146.4,530.0"/>
<path d="M408.4,443.5 412.1,439.9 417.4,438.0 417.1,433.7 419.4,430.2 420.7,423.6 423.4,420.5 423.8,416.5 425.9,413.8 430.8,413.1 435.9,414.9 435.5,410.1 437.3,406.1 439.2,401.4 442.9,398.5 448.6,396.0 453.8,394.2 457.1,391.3 461.4,390.7 464.6,386.8 469.5,384.4 469.7,379.4 472.6,375.3 472.7,370.2 475.3,366.1 475.8,361.6 478.6,357.9 478.7,353.6 480.2,349.7 478.6,346.0 479.7,342.1 478.4,337.9 482.8,335.8 484.5,334.0"/>
<path d="M484.5,266.5 484.5,379.5"/>
<path d="M484.5,379.5 663.5,379.5"/>
<path d="M512.7,254.0 512.7,266.3 677.7,266.3"/>
<path d="M677.2,266.8 681.3,269.0 683.9,272.8 688.2,275.2 688.0,279.6 689.7,283.6 689.4,288.3 692.6,290.8 693.9,294.6 697.4,296.8 698.4,300.0 697.2,304.3 693.8,307.1 692.5,311.4 689.3,313.9 687.9,317.8 684.5,320.5 685.1,324.7 683.8,328.8 684.6,332.6 686.0,337.0 689.4,340.0 691.1,344.3 694.1,346.6 695.3,350.2 698.3,352.5 699.6,355.2 697.1,358.8 693.0,360.2 690.4,363.5 686.3,365.2 683.7,368.8 679.6,370.3 676.7,374.0 672.4,375.4 668.3,378.3 663.5,379.5"/>
<path d="M699.0,300.4 715.0,305.5 731.4,314.0 736.0,319.0"/>
<path d="M757.0,219.8 756.0,229.6 751.5,245.0 747.2,261.0 747.2,292.5 746.2,306.3 739.3,312.2 738.3,317.0 731.4,324.0 724.0,333.0"/>
<path d="M664.3,379.5 666.0,410.0 667.8,438.5 689.5,440.3"/>
<path d="M689.0,440.0 688.2,443.6 685.5,446.1 684.9,449.8 681.8,452.1 681.5,456.0 678.6,458.4 677.8,462.0 675.1,464.5 674.2,468.0 671.5,470.4 669.9,474.5 666.0,476.8 664.5,481.1 660.6,483.6 660.1,487.4 657.5,490.2 656.8,493.9 654.2,496.9 655.0,501.5 653.6,505.7"/>
<path d="M687.0,446.0 677.0,466.0 667.0,480.0"/>
<path d="M588.1,402.3 591.9,400.4 595.0,401.7 599.0,404.1 600.4,409.0 605.5,409.0 608.8,412.8 614.1,413.4 616.8,418.0 616.2,422.3 612.4,424.3 611.9,428.5 607.6,432.1 606.5,436.2 607.9,440.0 611.3,441.3 614.1,444.0 618.3,443.8 620.1,447.5 624.0,448.4 626.1,452.0 630.4,451.8 633.4,454.8 637.6,455.0 641.6,457.8"/>
<path d="M521.6,379.5 523.0,383.1 522.3,387.0 523.8,390.6 523.4,394.4 524.5,398.0 524.1,401.8 524.7,405.1 528.0,403.5 529.9,400.4 533.3,398.8 536.2,394.7 540.4,391.8 543.1,387.4 546.7,384.5 551.9,386.5 555.7,386.7 559.2,385.1 562.7,385.5 567.7,387.1 571.7,390.2 574.7,392.4 576.6,395.4 579.6,397.4 581.2,400.8 583.8,402.4 588.3,401.6 586.6,396.9 586.4,392.3 588.5,387.7 592.0,384.0"/>
<path d="M584.1,402.7 579.9,402.0 576.1,400.0 571.9,399.4 568.1,397.5 564.3,397.1 562.5,401.0 562.3,405.3 560.8,409.0 558.3,412.2 554.7,414.0 552.4,417.4 548.7,419.7 545.7,423.5 542.1,421.7 538.8,421.7 536.1,424.8 535.5,428.8 533.3,432.1 532.5,436.2 530.6,439.6 527.0,439.8 523.5,438.4 519.6,438.9 515.0,435.2 514.8,439.5 512.7,443.3 512.6,447.8 508.8,451.0 506.4,455.3 503.5,457.8 502.3,461.4 499.6,464.1 499.1,467.8 496.9,470.7 496.4,474.3 494.0,477.1 493.2,480.8 489.4,482.6 486.6,485.9 482.9,487.5 479.0,489.3 474.6,489.1 470.8,490.9 466.2,491.7 462.3,494.1 457.9,495.1 454.8,497.2 451.2,497.6 447.8,499.6 444.9,497.1 441.1,496.4 438.2,494.1 434.5,491.6 431.6,488.1 428.0,485.5"/>
<path d="M407.6,442.7 407.7,447.9 406.1,453.1 408.4,456.5 408.6,460.6 410.8,464.1 411.3,468.3 415.0,471.0 417.2,474.9 420.7,477.7 422.7,480.8 425.9,482.6 428.0,485.5"/>
<path d="M427.8,485.3 425.1,488.4 421.5,490.3 418.8,493.3 415.2,495.3 413.1,498.3 409.9,500.2 407.9,503.3 404.9,505.4 402.8,508.3 399.7,510.2 397.2,513.4 393.7,515.4 391.1,518.4 387.7,520.4 384.6,523.1 380.8,524.7 377.7,527.3"/>
<path d="M146.6,534.3 201.0,534.3 202.4,525.5 290.0,526.8 377.7,527.5 443.0,530.0 515.0,530.5 657.0,530.7"/>
<path d="M442.7,529.5 439.0,533.4 435.9,535.8 435.0,539.4 432.3,542.1 430.9,545.8 426.9,546.3 423.5,548.4 419.4,548.7 416.1,550.9 412.5,552.1 410.1,555.1 406.5,556.2 404.0,558.9 400.5,560.1 397.7,562.8 393.8,563.4 391.0,566.1 387.1,566.6 384.2,569.3 380.4,570.1 377.5,572.7 373.7,573.5 370.8,576.1 366.6,576.3 363.2,578.6 359.1,578.8 355.8,580.9 352.3,583.0 350.2,586.6 346.5,588.5 343.4,593.1 341.4,597.4 340.5,602.0"/>
<path d="M118.0,603.2 198.3,603.2 295.0,603.0 340.5,602.9 388.0,602.5"/>
<path d="M388.0,601.7 400.0,597.7 412.8,593.5 452.0,594.5 458.0,595.5 471.5,601.0 474.5,611.0 516.0,611.5 556.5,653.0"/>
<path d="M387.6,601.4 385.6,605.1 381.9,607.3 380.3,611.4 376.6,614.5 380.1,615.9 382.2,619.1 385.7,620.7 387.7,624.0 391.2,625.6 392.7,629.9 396.0,633.1 397.5,637.3 400.9,640.4 402.4,644.7 406.0,647.4 408.0,651.0 411.8,652.5 413.7,656.1 417.6,657.6 419.6,660.9 422.5,663.2 423.7,666.7 426.9,668.7 427.8,672.4 431.0,674.5 432.0,678.2 435.5,680.8 437.1,684.9 440.4,687.6 443.2,691.8 447.5,694.8 448.3,698.8 450.8,702.1 451.3,706.3 454.3,709.4 454.9,713.5 457.6,716.6 458.3,720.4 461.4,722.7 462.7,726.2 465.6,728.6 466.6,732.3 470.0,736.0"/>
<path d="M295.0,602.0 303.9,653.3 311.0,702.4 318.6,736.0"/>
<path d="M198.6,603.0 195.4,653.0 187.0,736.0"/>
<path d="M145.5,529.7 146.1,533.7 143.2,536.6 144.0,541.8 140.5,545.7 141.8,550.3 139.7,554.3 139.1,558.9 136.0,562.1 134.8,566.5 130.8,569.0 130.3,574.1 126.9,578.0 127.4,582.5 124.1,585.8 124.6,590.4 121.4,592.9 121.4,597.1 117.8,599.3 117.0,604.2 113.2,607.3 113.0,612.2 109.2,615.0 107.9,620.4 103.3,623.5 103.1,627.7 99.2,629.5 98.7,633.6 95.0,635.1 93.8,638.8 90.2,640.5 89.1,645.8 85.2,649.7 85.1,655.9 82.5,660.2 83.1,665.0 81.0,669.8 84.1,672.6 83.9,676.7 87.2,679.4 87.0,683.0 87.7,687.5 84.5,690.9 85.2,695.4 81.8,699.3 84.7,702.7 84.2,707.1 87.4,710.4 86.7,714.9 89.9,718.5 88.1,723.0 89.9,727.3 88.7,731.7 89.6,736.0"/>
<path d="M470.8,736.3 471.2,731.2 475.1,730.0 477.0,726.5 480.7,725.0 482.5,721.5 486.2,720.0 487.9,716.3 491.8,715.2 493.7,711.5 498.1,710.8 500.9,707.3 505.3,706.6 508.0,703.6 511.9,702.9 514.6,700.3 518.3,698.8 519.8,695.0 523.4,693.4 525.9,688.7 530.7,686.0 531.8,680.9 535.8,677.5 536.7,672.1 540.4,668.4 542.1,665.1 545.7,663.7 546.8,659.8 550.4,658.5 552.7,654.8 556.6,653.8 560.4,651.5 564.7,652.3 568.6,650.4 572.5,651.1 576.6,651.7 580.9,654.3 580.5,649.7 583.6,646.3 583.2,641.7 585.8,638.4 588.1,633.5 592.6,630.7 594.3,627.1 597.9,625.7 600.1,622.4 605.1,621.1 608.8,617.4 613.8,617.6 617.9,614.6 621.8,616.0 625.4,613.7 629.3,615.0 633.6,613.6 634.3,617.4 636.0,619.7 639.3,616.3 639.2,611.7 642.1,608.8 643.0,605.0"/>
<path d="M654.5,597.9 659.1,595.6 664.1,594.3 668.4,591.7 673.3,590.1 673.6,585.4 675.5,581.0 674.4,576.8 674.7,572.5 672.9,568.9 672.5,564.8 670.7,561.1 669.7,557.1 667.2,553.8 666.1,549.8 663.7,546.8 662.8,543.1 660.3,540.2 659.2,535.2 656.6,530.8 656.6,527.1 655.4,523.6 655.3,519.9 654.1,516.5 654.3,512.7 653.0,509.3 652.8,505.6"/>
</g>
<g fill="none" stroke="#ffffff" stroke-width="3" stroke-linejoin="round" stroke-linecap="round">
<path d="M471.5,727.0 473.0,713.0 479.0,715.5 486.0,719.5 478.0,723.5 471.5,727.0"/>
<path d="M648.0,514.4 656.9,516.6 659.0,524.0 661.2,531.8"/>
</g>
<path d="M645.5,385.7 644.8,388.9 641.9,390.6 641.1,393.7 638.3,395.8 638.6,399.8 636.9,403.3 637.6,406.4 636.4,409.4 637.2,412.5 635.8,415.5 636.7,418.8 634.4,422.0 633.7,426.0 631.4,429.6 633.9,431.7 634.4,434.9 636.8,437.0 637.3,440.2 640.2,442.4 639.4,445.6 640.8,448.5 640.3,451.7 641.7,454.7 641.0,457.9 642.7,460.7 641.7,464.0 643.4,466.8 642.9,470.0 644.6,473.0 643.4,476.5 644.9,479.9 643.9,483.5 645.3,486.9 644.3,490.3 644.7,493.6 642.9,496.4 643.3,499.7 641.5,502.5 642.0,505.4 643.2,509.0 646.3,511.2 648.0,514.4" fill="none" stroke="#fff" stroke-width="4.0" stroke-linejoin="round" stroke-linecap="round"/>
<path d="M645.2,387.1 l7.4,0.1 M643.4,389.8 l3.8,6.7 M641.4,392.6 l2.3,5.6 M640.6,393.7 l3.7,1.3 M638.2,399.6 l8.6,0.1 M638.0,400.2 l-3.9,-1.1 M637.3,403.9 l-6.1,4.1 M637.0,407.7 l8.8,0.4 M636.8,410.9 l5.8,0.8 M636.4,415.5 l8.6,-3.7 M636.4,416.5 l-4.1,0.9 M635.4,420.7 l-4.3,-5.2 M634.0,423.9 l2.5,4.7 M633.0,426.5 l-3.3,-5.9 M632.8,426.9 l5.8,-0.0 M631.9,429.6 l-9.7,-1.2 M633.5,432.3 l-1.9,3.6 M636.1,436.7 l-6.5,3.1 M636.6,437.8 l8.8,-0.1 M638.1,440.2 l-3.5,4.6 M639.8,445.5 l10.7,1.4 M639.9,446.2 l-8.3,-3.0 M640.3,448.9 l5.5,1.5 M641.1,454.0 l-3.8,1.7 M641.2,455.0 l8.3,1.8 M641.8,458.9 l-6.6,-3.6 M642.3,462.6 l4.6,1.4 M642.9,466.6 l5.0,1.1 M643.2,469.2 l10.9,3.1 M643.7,472.6 l4.4,-0.1 M643.8,473.1 l8.9,2.8 M644.0,476.6 l5.9,-1.2 M644.2,479.3 l4.7,2.8 M644.5,483.3 l5.7,-1.3 M644.7,487.3 l-4.3,3.9 M644.8,488.8 l-5.7,3.3 M644.6,491.9 l-10.8,-0.2 M643.8,495.5 l8.3,-0.5 M643.7,495.9 l-9.8,4.9 M642.9,499.8 l5.6,6.8 M642.4,501.8 l10.4,5.3 M642.1,503.3 l10.8,-1.3 M642.8,507.3 l5.5,-9.5 M643.8,508.6 l3.9,-9.9 M645.5,511.0 l3.4,-7.5 M647.4,513.6 l-7.4,4.2" fill="none" stroke="#fff" stroke-width="2.80" stroke-linecap="round"/>
<path d="M658.6,385.8 658.0,389.7 655.1,392.4 654.4,396.1 652.6,399.5 652.9,403.4 651.4,406.3 652.2,409.5 650.6,412.4 651.3,415.6 649.8,418.9 652.5,421.0 653.2,424.2 655.9,426.3 656.3,429.6 658.5,432.5 658.6,436.1 660.7,439.1 660.5,442.6 662.0,445.5 661.2,448.7 662.4,451.6 661.5,454.8 662.7,457.9 660.5,460.6 660.7,464.1 658.4,466.7 658.7,470.2 656.5,472.9 657.2,476.6 655.5,479.9 656.3,483.5 654.5,486.8 655.3,490.4 653.9,493.4 654.7,496.6 653.6,499.5 654.5,502.7 653.6,505.7" fill="none" stroke="#fff" stroke-width="3.8" stroke-linejoin="round" stroke-linecap="round"/>
<path d="M658.9,386.3 l8.7,-2.0 M656.1,391.8 l-4.9,-4.9 M654.9,394.1 l4.0,7.0 M654.0,396.1 l4.4,1.0 M652.7,402.2 l-8.6,-3.3 M652.4,404.1 l-7.5,1.0 M652.0,407.0 l-5.6,-4.9 M651.4,410.8 l6.9,2.8 M651.1,413.1 l-7.7,-5.0 M650.4,418.2 l-5.0,-1.3 M650.5,419.0 l-8.7,0.7 M653.1,423.2 l4.0,-1.0 M654.3,425.2 l-3.4,4.7 M656.3,428.4 l-6.0,6.3 M658.0,432.6 l-2.0,2.5 M658.9,435.5 l-6.8,0.2 M659.4,437.0 l3.7,1.4 M660.6,440.7 l-4.6,-0.7 M661.2,442.9 l-6.0,-0.7 M661.6,447.5 l8.3,-4.6 M661.8,450.7 l-4.2,0.4 M661.9,451.7 l-4.1,-1.0 M662.1,455.6 l-6.4,-1.3 M661.6,459.7 l7.4,3.9 M660.2,463.6 l-4.6,-6.4 M660.0,464.3 l-7.9,-4.5 M658.7,468.1 l8.2,-1.6 M657.0,472.8 l-3.7,-2.3 M656.6,475.1 l7.8,-0.6 M656.5,476.5 l8.2,-5.0 M656.0,480.4 l8.5,3.4 M655.5,484.2 l-5.4,2.6 M655.2,486.2 l3.2,0.5 M654.8,489.8 l-3.6,-2.2 M654.6,491.4 l3.4,2.2 M654.4,495.0 l7.0,-3.0 M654.1,499.4 l-2.7,-2.3 M654.0,500.3 l7.4,2.8 M653.7,504.6 l6.2,-2.7" fill="none" stroke="#fff" stroke-width="2.66" stroke-linecap="round"/>
<path d="M639.6,383.7 643.3,384.5 646.3,387.6 648.7,384.9 651.7,384.7 655.7,384.9 659.4,387.5 661.2,384.6 664.0,383.0" fill="none" stroke="#fff" stroke-width="3.2" stroke-linejoin="round" stroke-linecap="round"/>
<path d="M640.9,383.6 l-4.3,2.3 M643.6,385.4 l-0.2,-3.5 M647.7,386.1 l1.4,3.1 M650.8,384.6 l-0.7,3.4 M653.4,384.6 l1.0,-3.2 M657.9,386.5 l-1.4,2.8 M661.4,385.1 l-1.1,-3.1 M661.8,384.7 l1.1,4.7" fill="none" stroke="#fff" stroke-width="2.24" stroke-linecap="round"/>
<path d="M645.2,394.2 647.1,397.2 646.7,400.8 648.7,404.3 646.2,407.1 645.9,410.9 643.4,414.2 645.6,417.2 645.5,420.8 647.0,424.0" fill="none" stroke="#fff" stroke-width="3.0" stroke-linejoin="round" stroke-linecap="round"/>
<path d="M646.3,395.6 l-3.9,2.8 M647.3,400.4 l-2.1,-0.4 M647.5,401.3 l-3.4,-0.2 M647.5,405.2 l3.1,4.3 M646.5,407.7 l2.2,1.9 M644.6,412.4 l-3.8,-0.8 M644.5,415.8 l-3.7,3.1 M645.6,419.5 l3.4,-3.4 M646.9,423.5 l-5.6,-0.3" fill="none" stroke="#fff" stroke-width="2.10" stroke-linecap="round"/>
<path d="M621.7,466.8 624.6,468.2 626.0,471.1 628.9,472.6 630.1,475.7 633.3,476.9 634.8,479.9 639.1,481.3 642.7,484.0" fill="none" stroke="#fff" stroke-width="3.6" stroke-linejoin="round" stroke-linecap="round"/>
<path d="M624.3,468.8 l-2.5,4.3 M625.2,469.7 l0.5,-2.0 M627.8,472.3 l1.8,-0.8 M632.0,476.5 l-1.9,0.8 M633.4,477.9 l2.3,-0.3 M637.6,481.0 l-0.3,-2.0 M640.8,482.9 l2.0,-3.5" fill="none" stroke="#fff" stroke-width="2.52" stroke-linecap="round"/>
<path d="M623.7,486.6 627.1,487.7 628.8,490.9 632.1,492.2 633.9,495.2 637.3,496.4 638.9,499.4 643.0,503.0" fill="none" stroke="#fff" stroke-width="3.6" stroke-linejoin="round" stroke-linecap="round"/>
<path d="M624.8,486.5 l-0.3,1.7 M628.9,490.0 l1.2,-1.7 M630.8,491.7 l-4.8,1.9 M636.1,496.2 l-0.5,5.0 M637.8,497.6 l2.7,-1.9 M641.3,501.1 l-1.4,0.9" fill="none" stroke="#fff" stroke-width="2.52" stroke-linecap="round"/>
<path d="M607.7,494.1 611.3,494.4 614.3,496.3 618.0,496.6 620.0,499.7 623.5,500.9 625.6,503.9 629.1,505.2 630.4,508.2 633.2,509.8 634.7,512.7 637.5,513.8 641.5,516.1 646.0,516.6" fill="none" stroke="#fff" stroke-width="3.8" stroke-linejoin="round" stroke-linecap="round"/>
<path d="M611.3,494.9 l2.5,-2.6 M616.4,496.6 l0.3,2.5 M619.6,498.5 l-4.7,1.7 M623.9,501.9 l1.6,-3.0 M627.1,504.5 l-0.0,-5.1 M629.3,506.4 l2.1,-4.5 M633.9,511.0 l-5.2,1.2 M636.4,513.5 l1.4,-3.2 M640.4,515.2 l-0.1,3.7 M641.7,515.5 l-1.9,3.9" fill="none" stroke="#fff" stroke-width="2.66" stroke-linecap="round"/>
<path d="M605.1,437.4 608.3,439.6 609.6,443.2 612.3,445.4 615.1,448.4 618.9,449.6 622.0,452.0" fill="none" stroke="#fff" stroke-width="3.0" stroke-linejoin="round" stroke-linecap="round"/>
<path d="M606.2,437.7 l1.9,-2.1 M609.2,442.0 l2.4,-1.8 M612.0,446.0 l2.7,-3.4 M615.3,448.0 l-2.8,3.3 M616.2,448.5 l0.2,2.3 M619.9,450.8 l-0.9,4.8" fill="none" stroke="#fff" stroke-width="2.10" stroke-linecap="round"/>
<path d="M631.5,428.9 628.7,431.7 624.4,432.6 622.9,436.8 620.0,440.0" fill="none" stroke="#fff" stroke-width="2.2" stroke-linejoin="round" stroke-linecap="round"/>
<path d="M628.1,431.4 l2.5,1.1 M622.5,436.5 l1.4,0.3 M621.0,438.6 l1.1,3.5" fill="none" stroke="#fff" stroke-width="1.54" stroke-linecap="round"/>
<path d="M625.2,545.4 628.3,542.6 631.5,541.4 634.5,542.9 635.6,546.0 637.7,547.4 641.9,546.7 645.6,543.6 646.1,547.0 649.0,548.9 649.7,552.6 653.7,553.6 656.4,555.7 655.9,559.3 653.1,561.7 652.8,564.8 652.4,568.5 654.6,571.5 654.3,574.7 653.9,578.5 651.5,581.4 650.6,585.5 647.1,584.2 643.7,585.7 640.2,584.2 636.6,585.5 634.1,583.2 630.7,582.8 628.1,580.4 624.8,581.1 621.9,579.3 618.5,580.1 615.5,579.0" fill="none" stroke="#fff" stroke-width="4.2" stroke-linejoin="round" stroke-linecap="round"/>
<path d="M625.6,544.7 l3.5,2.3 M630.6,541.8 l-0.4,3.9 M633.6,542.8 l2.9,-1.6 M637.0,546.8 l4.8,-2.1 M639.0,547.4 l1.7,1.4 M642.0,545.7 l-2.2,-5.6 M646.9,547.0 l-6.2,-0.8 M647.7,548.3 l3.7,-1.8 M653.4,553.9 l-3.3,5.3 M656.0,555.4 l-5.3,2.1 M655.5,558.7 l-3.1,-2.6 M654.0,561.4 l-2.2,-1.3 M652.7,567.2 l3.1,-0.7 M654.4,572.9 l-4.4,-0.4 M653.5,578.3 l3.1,0.3 M653.4,578.7 l4.8,0.1 M651.5,582.9 l-3.6,-2.8 M647.9,585.0 l1.0,2.7 M644.9,585.0 l3.3,5.0 M641.2,585.0 l-1.2,-3.7 M634.1,583.8 l1.1,-2.1 M632.0,582.8 l-1.7,4.5 M626.4,580.8 l-0.9,-3.4 M620.7,579.8 l-1.7,1.8 M616.3,579.1 l0.6,2.9" fill="none" stroke="#fff" stroke-width="2.94" stroke-linecap="round"/>
<path d="M613.7,599.6 618.3,600.3 622.4,603.6 624.5,601.0 627.7,600.2 630.3,597.4 633.3,600.4 637.3,601.3 639.7,604.2 643.0,605.0" fill="none" stroke="#fff" stroke-width="4.2" stroke-linejoin="round" stroke-linecap="round"/>
<path d="M615.7,599.8 l-2.9,2.3 M620.6,602.3 l2.9,-3.4 M625.0,601.1 l-1.6,-3.3 M626.4,600.3 l0.1,-2.4 M632.0,599.1 l-2.3,2.4 M636.2,601.6 l-0.6,4.9 M637.5,602.2 l-3.6,3.6" fill="none" stroke="#fff" stroke-width="2.94" stroke-linecap="round"/>
<path d="M654.3,560.4 657.1,563.1 657.8,567.0 660.6,570.2 658.6,573.2 658.6,576.9 657.0,580.0" fill="none" stroke="#fff" stroke-width="3.0" stroke-linejoin="round" stroke-linecap="round"/>
<path d="M655.7,561.4 l-2.5,1.9 M658.4,566.8 l-2.7,0.5 M658.6,574.6 l2.3,-0.7 M657.3,579.0 l-2.3,-0.1" fill="none" stroke="#fff" stroke-width="2.10" stroke-linecap="round"/>
<path d="M624.8,536.7 629.3,536.8 633.2,539.7 635.8,537.5 639.2,537.7 642.3,535.5 645.7,538.7 650.0,540.0" fill="none" stroke="#fff" stroke-width="3.6" stroke-linejoin="round" stroke-linecap="round"/>
<path d="M628.7,537.4 l1.9,-2.2 M630.5,538.0 l-0.6,2.9 M633.9,538.7 l-2.4,-2.6 M641.3,536.2 l0.6,-4.3 M645.5,537.8 l0.7,3.4 M648.2,539.1 l-0.7,-3.9" fill="none" stroke="#fff" stroke-width="2.52" stroke-linecap="round"/>
<path d="M719.5,340.0 725.0,334.0 731.4,329.5 739.3,324.8 748.0,323.5 759.0,320.8 768.0,320.2 778.6,317.5 786.0,313.5 791.0,311.8 798.0,308.8 806.0,310.0 811.0,312.3 804.0,315.5 798.3,317.8 788.0,322.0 778.6,326.5 768.0,329.5 759.0,332.3 749.0,334.5 739.3,337.2 728.0,340.3 722.0,341.8Z" fill="#ffffff" fill-opacity="0.8" stroke="#ffffff" stroke-width="3" stroke-linejoin="round"/>
<circle cx="805" cy="302.4" r="2.2" fill="#fff"/><circle cx="820" cy="307" r="1.4" fill="#fff"/>
<g fill="#ffffff" font-family="Liberation Sans, sans-serif" font-size="30.5px">
<text x="335.1" y="324.6">OH</text>
<text x="646.8" y="366">PA</text>
<text x="704.5" y="297">NY</text>
<text x="594.7" y="401.8">MD</text>
<text x="446" y="447">WV</text>
<text x="568" y="483.4">VA</text>
<text x="202.3" y="509.2">KY</text>
<text x="152.6" y="574.8">TN</text>
<text x="569.3" y="585.6">NC</text>
<text x="474.7" y="671">SC</text>
<text x="356.8" y="695.4">GA</text>
<text x="224.5" y="732.3">AL</text>
<text x="94.5" y="699">MS</text>
</g>
</svg>
<div class="abs title" style="top:35.4px">Drug Overdose</div>
<div class="abs title" style="top:65.6px">Rate</div>
<div class="abs sub" style="top:100.5px">Deaths per 100k</div>
<div class="abs sub" style="top:119.6px">pop. ages 15-64</div>
<div class="abs sub" style="top:138.8px">by county</div>
<div class="sw" style="top:28.5px;height:30.2px;background:#1c3d50"></div>
<div class="sw" style="top:58.7px;height:29.6px;background:#2d6f8f"></div>
<div class="sw" style="top:88.3px;height:29.8px;background:#5a9fc9"></div>
<div class="sw" style="top:118.1px;height:29.8px;background:#a7daf5"></div>
<div class="sw" style="top:147.9px;height:29.2px;background:#dcf3fd"></div>
<div class="sw" style="top:177.1px;height:30px;background:#9c9a9b"></div>
<div class="abs leg" style="top:35.2px">60+</div>
<div class="abs leg" style="top:64.5px">35 – 60</div>
<div class="abs leg" style="top:93.7px">25 – 35</div>
<div class="abs leg" style="top:122.6px">19 – 25</div>
<div class="abs leg" style="top:151.4px">&lt;<span style="font-size:7px"> </span>19</div>
<div class="abs leg" style="top:180.4px">Insufficient Data<span style="font-size:9px;vertical-align:6px">*</span></div>
<div class="abs h2" style="left:479.5px;top:34px">Overdose Type</div>
<div class="abs h2" style="left:694px;top:34px">Timeframe</div>
<div class="abs opt" style="left:479.5px;top:62.8px">All Drugs</div>
<div class="abs opt" style="left:584.5px;top:62.8px;letter-spacing:1.22px">Opioids</div>
<div class="abs opt" style="left:694.5px;top:62.8px;letter-spacing:1.1px">2009 - '13</div>
<div class="abs opt" style="left:798.5px;top:62.8px;letter-spacing:0.58px">2014 - '18</div>
<div class="radio" style="left:507px;top:82.2px"><div class="dot"></div></div>
<div class="radio" style="left:606.7px;top:82.2px"></div>
<div class="radio" style="left:722.2px;top:81.8px"></div>
<div class="radio" style="left:821.5px;top:82.2px"><div class="dot"></div></div>
</body></html>
